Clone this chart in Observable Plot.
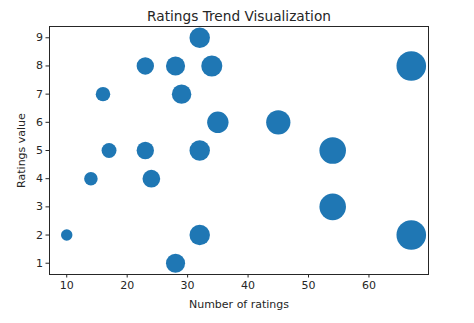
<!DOCTYPE html>
<html>
<head>
<meta charset="utf-8">
<script src="https://cdn.jsdelivr.net/npm/d3@7"></script>
<script src="https://cdn.jsdelivr.net/npm/@observablehq/plot@0.6"></script>
<style>
  html, body { margin: 0; padding: 0; background: #fff; }
  #chart svg { display: block; }
</style>
</head>
<body>
<div id="chart"></div>
<script>
// Number of ratings per item and the rating value it received
const counts  = [10, 14, 16, 17, 23, 23, 24, 28, 28, 29, 32, 32, 32, 34, 35, 45, 54, 54, 67, 67];
const ratings = [ 2,  4,  7,  5,  8,  5,  4,  8,  1,  7,  9,  5,  2,  8,  6,  6,  5,  3,  8,  2];
const xTicks = [10, 20, 30, 40, 50, 60];
const yTicks = [1, 2, 3, 4, 5, 6, 7, 8, 9];
const title = "Ratings Trend Visualization";

const points = counts.map((c, i) => ({count: c, rating: ratings[i]}));

const ink = "#262626";
const font = "DejaVu Sans, sans-serif";
const labelSize = 11;

const chart = Plot.plot({
  width: 474,
  height: 323,
  marginLeft: 49,
  marginRight: 46,
  marginTop: 26,
  marginBottom: 49,
  style: {fontFamily: font, color: ink, background: "#fff"},
  x: {domain: [7.15, 69.85]},
  y: {domain: [0.6, 9.4]},
  r: {type: "sqrt", domain: [0, 67], range: [0, 14.8]},
  marks: [
    Plot.dot(points, {x: "count", y: "rating", r: "count", fill: "#1f77b4", stroke: "none"}),
    Plot.frame({stroke: ink, strokeWidth: 1}),
    Plot.axisX(xTicks, {
      tickSize: 3.5, tickPadding: 3, fontSize: labelSize, stroke: ink, fill: ink,
      label: "Number of ratings", labelAnchor: "center", labelArrow: "none", labelOffset: 33
    }),
    Plot.axisY(yTicks, {
      tickSize: 3.5, tickPadding: 3, fontSize: labelSize, stroke: ink, fill: ink,
      label: "Ratings value", labelAnchor: "center", labelArrow: "none", labelOffset: 32
    }),
    Plot.text([title], {
      frameAnchor: "top", dy: -15, text: d => d, fontSize: 13.7, fill: ink
    })
  ]
});

// Axis titles at the same size as the tick labels
chart.querySelectorAll("g[aria-label='x-axis label'] text, g[aria-label='y-axis label'] text")
  .forEach(t => t.setAttribute("font-size", String(labelSize)));

document.getElementById("chart").appendChild(chart);
</script>
</body>
</html>
